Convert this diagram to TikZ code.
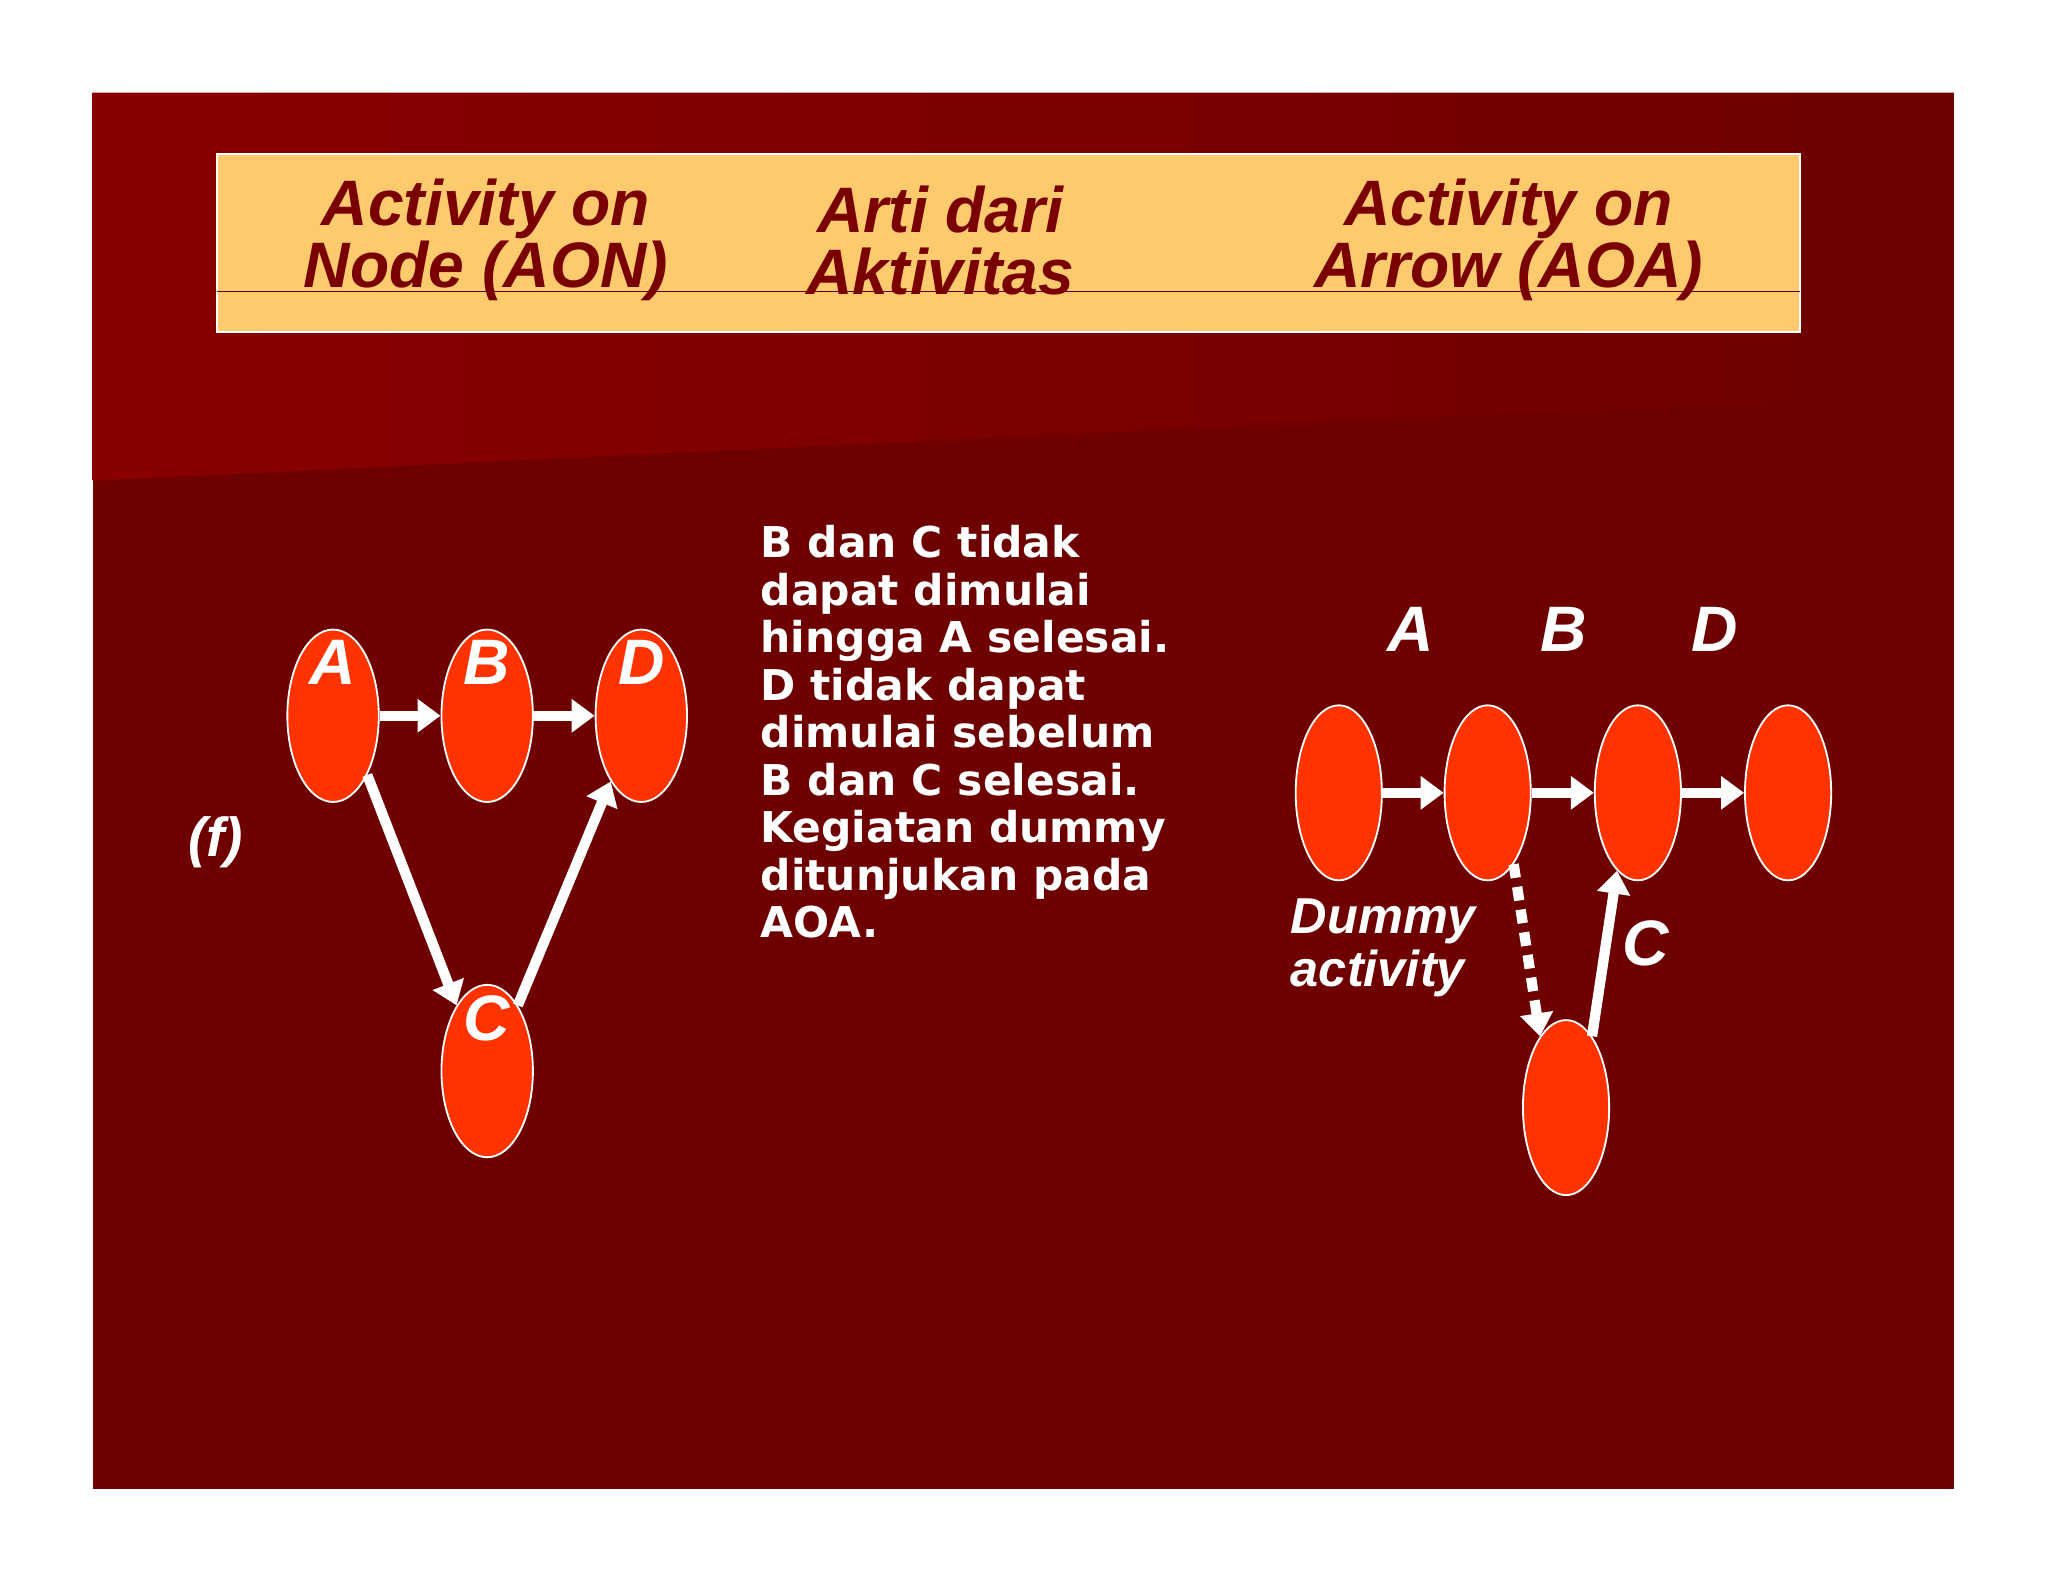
\documentclass[tikz,border=0pt]{standalone}
\usepackage{fontspec}
\setmainfont{Liberation Sans}
\newfontfamily\dvs{DejaVu Sans}
\usetikzlibrary{arrows.meta,shapes.geometric}
\definecolor{bgdark}{HTML}{6E0000}
\definecolor{bglight}{HTML}{8A0000}
\definecolor{hdr}{HTML}{FDCB6E}
\definecolor{hdrtxt}{HTML}{7A0000}
\definecolor{nodered}{HTML}{FF3300}
\tikzset{
  ev/.style={ellipse,draw=white,line width=0.8pt,fill=nodered,minimum width=70*0.02cm,minimum height=132*0.02cm,inner sep=0pt},
  evb/.style={ev,minimum width=66*0.02cm,minimum height=134*0.02cm},
  hd/.style={font=\fontsize{28}{27}\selectfont\bfseries\itshape,text=hdrtxt,align=center},
  lab/.style={font=\fontsize{28}{28}\selectfont\bfseries\itshape,text=white},
  arr/.style={draw=white,line width=4.5pt,-{Triangle[length=10pt,width=14pt]}},
}
\begin{document}
\begin{tikzpicture}[x=0.02cm,y=-0.02cm]
\useasboundingbox (0,0) rectangle (1568,1211);
\fill[white] (0,0) rectangle (1568,1211);
\fill[bgdark] (71,71) rectangle (1496,1140);
\shade[left color=bglight,right color=bgdark] (71,71) -- (1496,71) -- (1496,300) -- (71,368) -- cycle;
\draw[white,fill=hdr,line width=0.8pt] (166,118) rectangle (1378,254);
\draw[hdrtxt!80!black,line width=0.4pt] (166,223) -- (1378,223);
\node[hd] (h1) at (372,184) {Activity on\\Node (AON)};
\node[hd] (h2) at (720,184) {Arti dari\\Aktivitas};
\node[hd] (h3) at (1155,184) {Activity on\\Arrow (AOA)};
% AON
\node[ev] (A) at (255,548) {};
\node[ev] (B) at (373,548) {};
\node[ev] (D) at (491,548) {};
\node[ev] (C) at (373,820) {};
\node[lab] at (255,507) {A};
\node[lab] at (373,507) {B};
\node[lab] at (491,507) {D};
\node[lab] at (373,780) {C};
\draw[arr] (A) -- (B);
\draw[arr] (B) -- (D);
\draw[arr] (A.-60) -- (C.115);
\draw[arr] (C.65) -- (D.-115);
\node[font=\fontsize{24}{24}\selectfont\bfseries\itshape,text=white] (f) at (165,645) {(f)};
% text
\node[anchor=north west,align=left,text=white,font=\dvs\fontsize{18.5}{20.7}\selectfont\bfseries,inner sep=0pt] (txt) at (582,402) {B dan C tidak\\dapat dimulai\\hingga A selesai.\\D tidak dapat\\dimulai sebelum\\B dan C selesai.\\Kegiatan dummy\\ditunjukan pada\\AOA.};
% AOA
\node[evb] (n1) at (1025,607) {};
\node[evb] (n2) at (1139,607) {};
\node[evb] (n3) at (1254,607) {};
\node[evb] (n4) at (1369,607) {};
\node[evb] (n5) at (1199,848) {};
\node[lab] at (1080,482) {A};
\node[lab] at (1197,482) {B};
\node[lab] at (1313,482) {D};
\node[lab] at (1260,722) {C};
\draw[arr] (n1) -- (n2);
\draw[arr] (n2) -- (n3);
\draw[arr] (n3) -- (n4);
\draw[draw=white,line width=4.5pt,dash pattern=on 6pt off 4pt,-{Triangle[length=10pt,width=14pt]}] (n2.-70) -- (n5.110);
\draw[arr] (n5.70) -- (n3.-105);
\node[anchor=north west,align=left,text=white,font=\fontsize{22}{22.8}\selectfont\bfseries\itshape,inner sep=0pt] (dm) at (988,688) {Dummy\\activity};
\end{tikzpicture}
\end{document}
